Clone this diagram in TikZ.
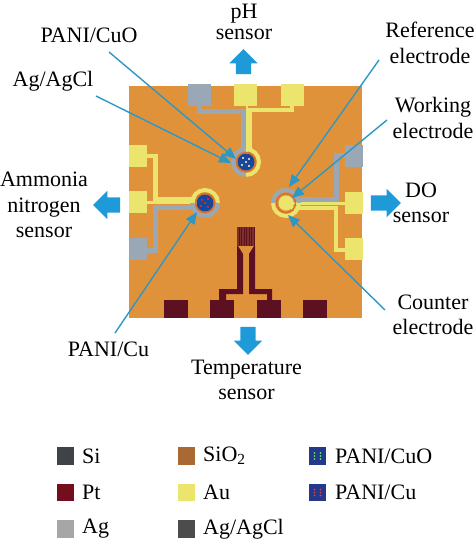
\documentclass[tikz,border=0pt]{standalone}
\usepackage{fontspec}
\setmainfont{Liberation Serif}
\usepackage{xcolor}
\usetikzlibrary{shapes.arrows, arrows.meta, positioning}

\definecolor{chipcol}{HTML}{E0923A}
\definecolor{ptcol}{HTML}{5C1022}
\definecolor{agcol}{HTML}{9AA8B6}
\definecolor{aucol}{HTML}{EBE56E}
\definecolor{ringcol}{HTML}{D9702E}
\definecolor{panicol}{HTML}{17479A}
\definecolor{arrowcol}{HTML}{1E9AD8}
\definecolor{leadcol}{HTML}{2E97C4}
\definecolor{sicol}{HTML}{3F4347}
\definecolor{oxcol}{HTML}{A86A32}
\definecolor{swpanicol}{HTML}{24398A}

\begin{document}
\begin{tikzpicture}[
    x=1pt, y=-1pt,
    lbl/.style={align=center, font=\fontsize{22}{25.5}\selectfont, inner sep=1pt},
    leglbl/.style={font=\fontsize{22}{24}\selectfont, inner sep=0pt, anchor=west},
    swatch/.style={rectangle, minimum size=17.5pt, inner sep=0pt},
    pad/.style={rectangle, minimum width=#1, minimum height=22pt, inner sep=0pt},
    bigarrow/.style={single arrow, fill=arrowcol, inner xsep=1pt, inner ysep=7.5pt, single arrow head extend=6.5pt},
    leader/.style={color=leadcol, line width=1.4pt, -{Stealth[inset=0pt, length=12pt, width=10pt]}},
    autrace/.style={draw=aucol, line width=4.5pt},
    authin/.style={draw=aucol, line width=2.5pt},
    agtrace/.style={draw=agcol, line width=5pt}
]
    \useasboundingbox (0,0) rectangle (474,541);

    % Chip
    \fill[chipcol] (129,86) rectangle (362,318);

    % pH sensor traces
    \draw[agtrace] (199,100) -- (199,111) -- (243,111) -- (243,155);
    \draw[authin] (247,100) -- (247,155);
    \draw[autrace] (292,100) -- (292,110) -- (250,110) -- (250,150);
    \node (phpada) [pad=23pt, fill=agcol] at (199.5,95) {};
    \node (phpadb) [pad=23pt, fill=aucol] at (245.5,95) {};
    \node (phpadc) [pad=23pt, fill=aucol] at (292.5,95) {};

    % Ammonia nitrogen sensor traces
    \draw[autrace] (140,156) -- (155.5,156) -- (155.5,199) -- (198,199);
    \draw[authin] (140,202.5) -- (198,202.5);
    \draw[agtrace] (199,207.5) -- (155.5,207.5) -- (155.5,250) -- (140,250);
    \node (nhpada) [pad=18pt, fill=aucol] at (138,156) {};
    \node (nhpadb) [pad=18pt, fill=aucol] at (138,202) {};
    \node (nhpadc) [pad=18pt, fill=agcol] at (138,249) {};

    % DO sensor traces
    \draw[agtrace] (291,199) -- (336,199) -- (336,155) -- (350,155);
    \draw[authin] (291,203.5) -- (350,203.5);
    \draw[autrace] (291,208) -- (336,208) -- (336,250) -- (350,250);
    \node (dopada) [pad=18pt, fill=agcol] at (353.5,156) {};
    \node (dopadb) [pad=18pt, fill=aucol] at (353.5,203) {};
    \node (dopadc) [pad=18pt, fill=aucol] at (353.5,249) {};

    % Working electrodes and half rings
    \draw[agcol, line width=4pt] (246,162) ++(90:13) arc (90:270:13);
    \draw[aucol, line width=4pt] (246,162) ++(90:13) arc (90:-90:13);
    \draw[ringcol, line width=1.5pt] (246,162) circle (9.5);
    \node (cuodisc) [circle, fill=panicol, minimum size=17pt, inner sep=0pt] at (246,162) {};
    \foreach \dx/\dy in {-3/-4, 3/-3, 0/0, -4/3, 3/4} \fill[white!70!aucol] (246+\dx,162+\dy) circle (1.1);

    \draw[aucol, line width=4pt] (205,203) ++(180:13) arc (180:360:13);
    \draw[agcol, line width=4pt] (205,203) ++(180:13) arc (180:0:13);
    \draw[ringcol, line width=1.5pt] (205,203) circle (9.5);
    \node (cudisc) [circle, fill=panicol, minimum size=17pt, inner sep=0pt] at (205,203) {};
    \foreach \dx/\dy in {-3/-3, 3/-4, 0/0, -4/3, 3/4} \fill[red!70!chipcol] (205+\dx,203+\dy) circle (1.1);

    \draw[agcol, line width=4pt] (286,203) ++(180:13) arc (180:360:13);
    \draw[aucol, line width=4pt] (286,203) ++(180:13) arc (180:0:13);
    \draw[ringcol, line width=1.5pt] (286,203) circle (9.5);
    \node (dodisc) [circle, fill=aucol, minimum size=15pt, inner sep=0pt] at (286,203) {};

    % Temperature sensor
    \fill[ptcol!75!chipcol] (237,227) rectangle (255,246);
    \foreach \sx in {239,241.5,...,254} \draw[ptcol, line width=0.8pt] (\sx,227) -- (\sx,246);
    \fill[ptcol] (237,246) -- (238,246) -- (243,254) -- (243,294) -- (226,294) -- (226,300) -- (219,300) -- (219,289) -- (237,289) -- cycle;
    \fill[ptcol] (255,246) -- (254,246) -- (249,254) -- (249,294) -- (267,294) -- (267,300) -- (272,300) -- (272,289) -- (255,289) -- cycle;
    \node (tempada) [rectangle, fill=ptcol, minimum width=24pt, minimum height=18pt, inner sep=0pt] at (176,309) {};
    \node (tempadb) [rectangle, fill=ptcol, minimum width=24pt, minimum height=18pt, inner sep=0pt] at (222,309) {};
    \node (tempadc) [rectangle, fill=ptcol, minimum width=24pt, minimum height=18pt, inner sep=0pt] at (269,309) {};
    \node (tempadd) [rectangle, fill=ptcol, minimum width=24pt, minimum height=18pt, inner sep=0pt] at (315,309) {};

    % Sensor names and block arrows
    \node (phname) [lbl] at (244,22) {pH\\[-4pt]sensor};
    \node (phout) [bigarrow, minimum height=25pt, rotate=90] at (243.5,65.5) {};
    \node (nhname) [lbl] at (44,205) {Ammonia\\nitrogen\\sensor};
    \node (nhout) [bigarrow, minimum height=27pt, rotate=180] at (110.5,205) {};
    \node (doname) [lbl] at (421,203) {DO\\sensor};
    \node (doout) [bigarrow, minimum height=30pt] at (382,203) {};
    \node (tempname) [lbl] at (246.5,380) {Temperature\\sensor};
    \node (tempout) [bigarrow, minimum height=28pt, rotate=270] at (248,337) {};

    % Electrode labels
    \node (cuolbl) [lbl] at (89,35) {PANI/CuO};
    \node (agcllbl) [lbl] at (53,81) {Ag/AgCl};
    \node (culbl) [lbl] at (108.5,349) {PANI/Cu};
    \node (reflbl) [lbl] at (430,43) {Reference\\electrode};
    \node (worklbl) [lbl] at (433,118) {Working\\electrode};
    \node (countlbl) [lbl] at (433,315) {Counter\\electrode};

    % Leader ends
    \coordinate (cuoend) at (236,159);
    \coordinate (agclend) at (231,163);
    \coordinate (cuend) at (197,212);
    \coordinate (refend) at (289,187);
    \coordinate (workend) at (292,198);
    \coordinate (countend) at (288,215);

    \draw[leader] (cuolbl.center) ++(20,17) -- (cuoend);
    \draw[leader] (agcllbl.center) ++(43,15) -- (agclend);
    \draw[leader] (culbl.center) ++(6.5,-16) -- (cuend);
    \draw[leader] (reflbl.center) ++(-51,17) -- (refend);
    \draw[leader] (worklbl.center) ++(-46,2) -- (workend);
    \draw[leader] (countlbl.center) ++(-48,-5) -- (countend);

    % Legend
    \node (sisw) [swatch, fill=sicol] at (65.5,456) {};
    \node (ptsw) [swatch, fill=ptcol!85!red, below=18.5pt of sisw] {};
    \node (agsw) [swatch, fill=black!35, below=18.5pt of ptsw] {};
    \node (oxsw) [swatch, fill=oxcol] at (186.5,456) {};
    \node (ausw) [swatch, fill=aucol, below=18.5pt of oxsw] {};
    \node (agclsw) [swatch, fill=black!70, below=18.5pt of ausw] {};
    \node (cuosw) [swatch, fill=swpanicol] at (317.5,456) {};
    \node (cusw) [swatch, fill=swpanicol, below=18.5pt of cuosw] {};
    \foreach \dx/\dy in {-3/-3, 3/-3, -3/0, 3/0, -3/3, 3/3} {
        \fill[green!60!white] (cuosw.center) ++(\dx,\dy) circle (0.9);
        \fill[red!75!white] (cusw.center) ++(\dx,\dy) circle (0.9);
    }

    \node [leglbl, right=7.5pt of sisw] {Si};
    \node [leglbl, right=7.5pt of ptsw] {Pt};
    \node [leglbl, right=7.5pt of agsw] {Ag};
    \node [leglbl, right=7.5pt of oxsw] {SiO\textsubscript{2}};
    \node [leglbl, right=7.5pt of ausw] {Au};
    \node [leglbl, right=7.5pt of agclsw] {Ag/AgCl};
    \node [leglbl, right=8.5pt of cuosw] {PANI/CuO};
    \node [leglbl, right=8.5pt of cusw] {PANI/Cu};

\end{tikzpicture}
\end{document}
